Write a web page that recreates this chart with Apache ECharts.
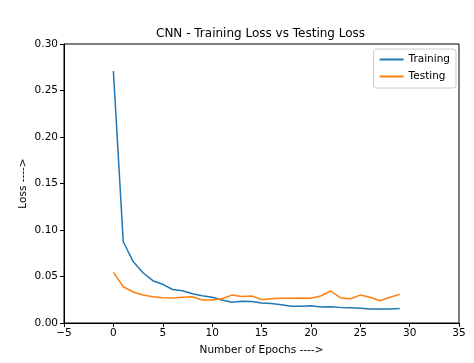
<!DOCTYPE html>
<html><head><meta charset="utf-8">
<script src="https://cdn.jsdelivr.net/npm/echarts@6/dist/echarts.min.js"></script>
<style>html,body{margin:0;padding:0;background:#fff}#c{width:474px;height:363px}</style>
</head><body><div id="c"></div>
<script>
var epochs = [0,1,2,3,4,5,6,7,8,9,10,11,12,13,14,15,16,17,18,19,20,21,22,23,24,25,26,27,28,29];
var trainingLoss = [0.271,0.0874,0.066,0.054,0.0455,0.0416,0.036,0.0347,0.0315,0.0294,0.0276,0.0247,0.0222,0.0233,0.023,0.0215,0.021,0.0197,0.018,0.018,0.0186,0.0172,0.0175,0.0168,0.0165,0.0158,0.015,0.015,0.015,0.0155];
var testingLoss = [0.0545,0.039,0.0333,0.0301,0.0283,0.0272,0.027,0.0278,0.0283,0.0247,0.0247,0.026,0.030,0.0286,0.029,0.0254,0.026,0.0265,0.0265,0.027,0.0265,0.029,0.0344,0.027,0.026,0.030,0.0276,0.024,0.0276,0.0308];
var xTicks = {min:-5, max:35, interval:5};
var yTicks = {min:0, max:0.3, interval:0.05};

function pairs(ys){ return epochs.map(function(e,i){ return [e, ys[i]]; }); }
var font = 'DejaVu Sans';
var chart = echarts.init(document.getElementById('c'), null, {renderer:'canvas'});
chart.setOption({
  animation:false,
  backgroundColor:'#fff',
  title:{text:'CNN - Training Loss vs Testing Loss', left:151, top:23,
    textStyle:{fontFamily:font, fontSize:12, fontWeight:'normal', color:'#000'}},
  grid:{left:64, right:15, top:44, bottom:40, show:true, borderColor:'#000', borderWidth:1, backgroundColor:'transparent'},
  legend:{right:18, top:49, orient:'vertical', backgroundColor:'#fff', borderColor:'#ccc', borderWidth:1, borderRadius:3,
    padding:[5,6,6,6], itemGap:6, itemWidth:24, itemHeight:2, icon:'rect',
    textStyle:{fontFamily:font, fontSize:10.5, color:'#000'},
    data:['Training','Testing']},
  xAxis:{type:'value', min:xTicks.min, max:xTicks.max, interval:xTicks.interval,
    name:'Number of Epochs ---->', nameLocation:'middle', nameGap:22, nameMoveOverlap:false,
    nameTextStyle:{fontFamily:font, fontSize:10.5, color:'#000'},
    axisLine:{show:true, onZero:false, lineStyle:{color:'#000', width:1}},
    axisTick:{show:true, length:4, lineStyle:{color:'#000'}},
    axisLabel:{fontFamily:font, fontSize:10.5, color:'#000', margin:5, formatter:function(v){return String(v).replace('-','\u2212');}},
    splitLine:{show:false}},
  yAxis:{type:'value', min:yTicks.min, max:yTicks.max, interval:yTicks.interval,
    name:'Loss ---->', nameLocation:'middle', nameGap:35, nameMoveOverlap:false,
    nameTextStyle:{fontFamily:font, fontSize:10.5, color:'#000'},
    axisLine:{show:true, onZero:false, lineStyle:{color:'#000', width:1}},
    axisTick:{show:true, length:4, lineStyle:{color:'#000'}},
    axisLabel:{fontFamily:font, fontSize:10.5, color:'#000', margin:6, formatter:function(v){return v.toFixed(2);}},
    splitLine:{show:false}},
  series:[
    {name:'Training', type:'line', data:pairs(trainingLoss), symbol:'none', color:'#1f77b4', lineStyle:{width:1.5, color:'#1f77b4'}},
    {name:'Testing', type:'line', data:pairs(testingLoss), symbol:'none', color:'#ff7f0e', lineStyle:{width:1.5, color:'#ff7f0e'}}
  ]
});
</script></body></html>
